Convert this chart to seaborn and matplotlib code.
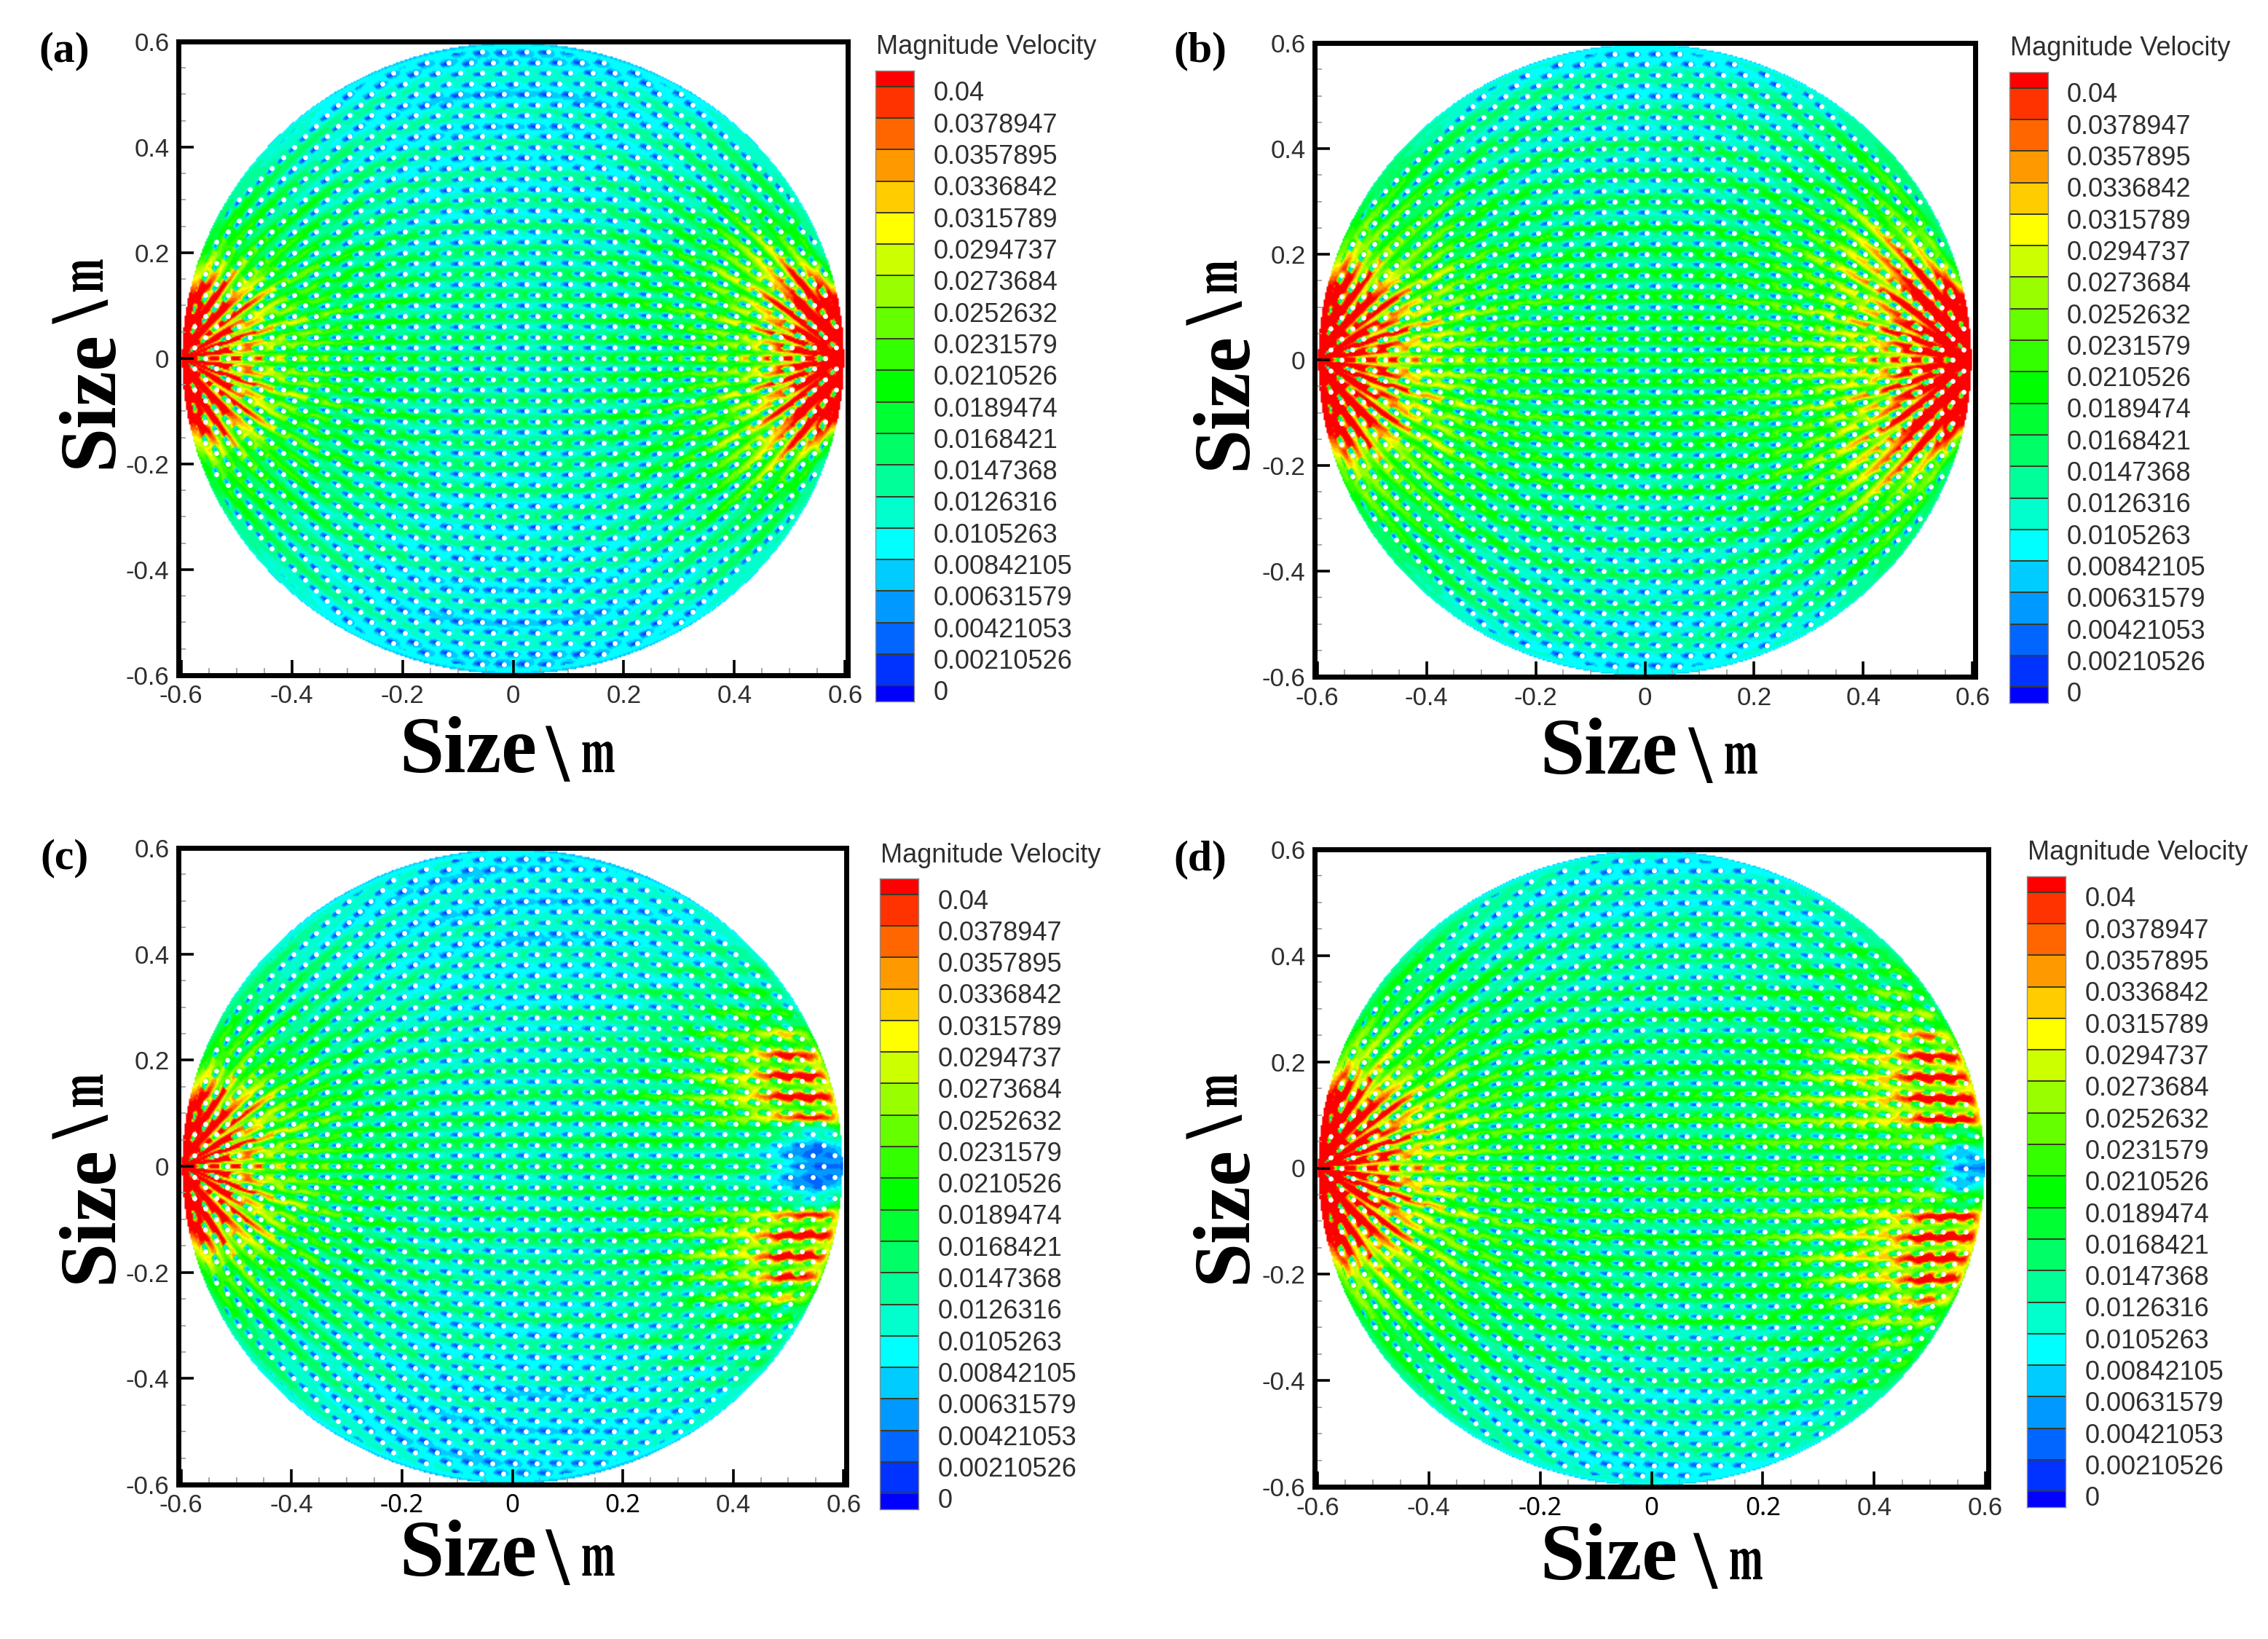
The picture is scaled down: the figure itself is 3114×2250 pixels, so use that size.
import numpy as np
import matplotlib
matplotlib.use("Agg")
import matplotlib.pyplot as plt
import matplotlib.patheffects as pe
from matplotlib.colors import ListedColormap
from matplotlib.ticker import MultipleLocator
from matplotlib.transforms import Affine2D
import seaborn as sns

WIDTH, HEIGHT = 3114, 2250
DPI = 200

# Contour levels and the colours of the bands between them (low to high)
level_labels = ["0.04", "0.0378947", "0.0357895", "0.0336842", "0.0315789", "0.0294737",
                "0.0273684", "0.0252632", "0.0231579", "0.0210526", "0.0189474", "0.0168421",
                "0.0147368", "0.0126316", "0.0105263", "0.00842105", "0.00631579",
                "0.00421053", "0.00210526", "0"]
band_colors = ["#0000ff", "#0033ff", "#0066ff", "#0099ff", "#00ccff", "#00ffff", "#00ffcc",
               "#00ff99", "#00ff66", "#00ff33", "#00ff00", "#33ff00", "#66ff00", "#99ff00",
               "#ccff00", "#ffff00", "#ffcc00", "#ff9900", "#ff6600", "#ff3300", "#ff0000"]

# Sampling stations of the velocity tables, metres
station_x = [-0.6, -0.55, -0.5, -0.45, -0.4, -0.3, -0.15, 0, 0.15, 0.3, 0.4, 0.45, 0.5, 0.55, 0.6]
station_y = [0, 0.05, 0.1, 0.15, 0.2, 0.3, 0.4, 0.5, 0.6]

# Mean speed in mm/s at each station, one row per |y|
speed_a = [[72, 52, 38, 29, 24, 19, 16, 14.5, 15.5, 19, 25, 30, 40, 62, 80],
           [70, 50, 37, 28, 24, 19, 16, 14.5, 15.5, 19, 24, 29, 38, 58, 80],
           [60, 46, 34, 27, 23, 18.5, 15.5, 14.5, 15.5, 19, 24, 29, 36, 54, 66],
           [36, 36, 30, 25, 21, 18, 15, 14, 15, 18.5, 24, 30, 36, 38, 14],
           [22, 24, 23, 21, 19.5, 17, 14.5, 13.5, 14.5, 17.5, 22, 26, 26, 17, 9],
           [16, 17, 17, 17, 16, 15, 13, 12.5, 13, 15, 17, 17, 15, 12, 9],
           [13, 13, 13, 13.5, 13.5, 13, 11.5, 11, 11.5, 13, 13.5, 13.5, 12, 11, 9],
           [11, 11, 11, 11, 11.5, 11, 10.5, 10.5, 10.5, 11, 11.5, 11.5, 11, 10, 9.5],
           [10, 10, 10, 10, 10, 10, 10, 10, 10, 10, 10, 10, 10, 10, 10]]
speed_b = [[80, 60, 44, 35, 28, 22, 19, 17.5, 19, 23, 29, 35, 46, 68, 88],
           [78, 58, 43, 34, 28, 22, 19, 17.5, 19, 23, 28, 33, 44, 64, 88],
           [68, 52, 40, 32, 27, 21.5, 18.5, 17.5, 18.5, 22, 28, 34, 42, 60, 70],
           [44, 44, 36, 29, 25, 21, 18, 17, 18, 21, 28, 36, 42, 42, 15],
           [28, 30, 28, 25, 23, 19.5, 17.5, 16.5, 17.5, 21, 28, 33, 32, 20, 11],
           [19, 20, 20, 20, 19.5, 17.5, 16, 15.5, 16, 18, 21, 22, 18, 14, 11],
           [15, 16, 16, 17, 16.5, 15.5, 14.5, 14, 14.5, 15.5, 17, 17, 15, 13, 11],
           [12.5, 12.5, 12.5, 13, 13, 13, 13, 12.5, 13, 13, 13.5, 13, 13, 12, 11],
           [11, 11, 11, 11, 11, 11, 11, 11, 11, 11, 11, 11, 11, 11, 11]]
speed_c = [[72, 52, 38, 29, 24, 19, 16, 14.5, 15.5, 16, 15, 13, 7, 3.5, 3],
           [70, 50, 37, 28, 24, 19, 16, 14.5, 15.5, 16.5, 16, 15, 10, 6, 12],
           [60, 46, 34, 27, 23, 18.5, 15.5, 14.5, 15.5, 18, 25, 29, 33, 35, 34],
           [36, 36, 30, 25, 21, 18, 15, 14, 15, 19, 27, 32, 36, 37, 32],
           [22, 24, 23, 21, 19.5, 17, 14.5, 13.5, 14.5, 17.5, 24, 30, 35, 35, 22],
           [16, 17, 17, 17, 16, 15, 13, 12.5, 13, 15, 17, 19, 15, 10, 9],
           [13, 13, 13, 13.5, 13.5, 13, 11.5, 11, 11.5, 13, 13.5, 13.5, 12, 11, 9],
           [11, 11, 11, 11, 11.5, 11, 10.5, 10.5, 10.5, 11, 11.5, 11.5, 11, 10, 9.5],
           [10, 10, 10, 10, 10, 10, 10, 10, 10, 10, 10, 10, 10, 10, 10]]
speed_d = [[80, 60, 44, 35, 28, 22, 19, 18, 19, 20, 20, 20, 16, 5, 3],
           [78, 58, 43, 34, 28, 22, 19, 18, 19, 20.5, 22, 22, 23, 14, 18],
           [68, 52, 40, 32, 27, 21.5, 18.5, 17.5, 19, 22, 28, 32, 37, 38, 36],
           [44, 44, 36, 29, 25, 21, 18, 17, 18.5, 22, 29, 34, 38, 39, 34],
           [28, 30, 28, 25, 23, 19.5, 17.5, 16.5, 18, 21, 27, 33, 38, 38, 26],
           [19, 20, 20, 20, 19.5, 17.5, 16, 15.5, 16, 18, 21, 24, 21, 13, 11],
           [15, 16, 16, 17, 16.5, 15.5, 14.5, 14, 14.5, 15.5, 17, 18, 16, 13, 11],
           [12.5, 12.5, 12.5, 13, 13, 13, 13, 12.5, 13, 13, 13.5, 13, 13, 12, 11],
           [11, 11, 11, 11, 11, 11, 11, 11, 11, 11, 11, 11, 11, 11, 11]]

# Outlet sinks (x, |y|) in metres for each case; the split outlet feeds a wide band of the wall
outlets_a = [(0.6, 0.0)]
outlets_b = [(0.6, 0.0)]
outlets_c = [(0.74, 0.06), (0.74, 0.10), (0.74, 0.14), (0.74, 0.18), (0.74, 0.22)]
outlets_d = [(0.74, 0.06), (0.74, 0.10), (0.74, 0.14), (0.74, 0.18), (0.74, 0.22)]

tick_values = [-0.6, -0.4, -0.2, 0, 0.2, 0.4, 0.6]
tick_labels = ["-0.6", "-0.4", "-0.2", "0", "0.2", "0.4", "0.6"]

# Obstacle lattice: staggered rows, metres
lattice_dx = 0.04
lattice_dy = 0.02
lattice_shift = 0.004
disk_radius = 0.6

SERIF = "Liberation Serif"
SANS = "Liberation Sans"
TEXT_GREY = "#2e2e2e"

sns.set_theme(style="white")
plt.rcParams["font.family"] = [SANS, "DejaVu Sans"]
band_cmap = ListedColormap(band_colors)
band_cmap.set_bad((1, 1, 1, 0))
levels = np.linspace(0, 0.04, 20)

fig = plt.figure(figsize=(WIDTH / DPI, HEIGHT / DPI), dpi=DPI, facecolor="white")


class SqueezeX(pe.AbstractPathEffect):
    """Narrows a glyph run along its own baseline."""

    def __init__(self, factor):
        super().__init__()
        self.factor = factor

    def draw_path(self, renderer, gc, tpath, affine, rgbFace=None):
        renderer.draw_path(gc, tpath, Affine2D().scale(self.factor, 1) + affine, rgbFace)


def fig_xy(px, py):
    return px / WIDTH, 1 - py / HEIGHT


def px_text(px, py, text, **kw):
    x, y = fig_xy(px, py)
    return fig.text(x, y, text, ha=kw.pop("ha", "left"), va=kw.pop("va", "baseline"),
                    rotation_mode="anchor", **kw)


def speed_on_grid(table, gx, gy):
    rows = np.array([np.interp(gx, station_x, row) for row in table])
    out = np.empty((gy.size, gx.size))
    abs_y = np.abs(gy)
    for j in range(gx.size):
        out[:, j] = np.interp(abs_y, station_y, rows[:, j])
    return out


def magnitude_field(table, outlets, gx, gy):
    X, Y = np.meshgrid(gx, gy)
    Ya = np.abs(Y)
    base = speed_on_grid(table, gx, gy) * 1e-3

    # Lanes follow the streamlines between the inlet and the outlets
    sinks = [(sx, p) for sx, o in outlets for p in ((o, -o) if o > 0 else (0.0,))]
    split = len(sinks) > 1
    weight = 1.0 / len(sinks)
    psi = np.arctan2(Ya, X + 0.6)
    ux = (X + 0.6) / ((X + 0.6) ** 2 + Y ** 2 + 1e-4)
    uy = Y / ((X + 0.6) ** 2 + Y ** 2 + 1e-4)
    outlet_dist = np.full(X.shape, 9.0)
    for sx, p in sinks:
        psi = psi + weight * np.arctan2(Ya - p, sx - X)
        d2 = (X - sx) ** 2 + (Y - p) ** 2 + 1e-4
        ux += weight * (sx - X) / d2
        uy += weight * (p - Y) / d2
        outlet_dist = np.minimum(outlet_dist, np.hypot(X - 0.6, Y - p))
    inlet_dist = np.hypot(X + 0.6, Y)
    radius = np.hypot(X, Y)

    # Fine lanes mid-disk give way to rays close to the ports
    near_in = np.exp(-inlet_dist / 0.14)
    near_out = np.exp(-outlet_dist / (0.2 if split else 0.13))
    fine = 0.22 * np.cos(2 * np.pi * psi / 0.133)
    ray_in = 0.55 * np.cos(2 * np.pi * psi / 0.2)
    if split:
        # Rays of the split outlet run level, between the obstacle rows
        ray_out = 0.5 * np.cos(2 * np.pi * (Ya - 0.01) / 0.04)
    else:
        ray_out = 0.55 * np.cos(2 * np.pi * psi / 0.2)
    far = np.clip(1 - near_in - near_out, 0, 1)
    lanes = 1 + far * fine + near_in * ray_in + near_out * ray_out
    lanes = 1 + (lanes - 1) * (1 - np.exp(-np.clip(disk_radius - radius, 0, None) / 0.02))

    # Low-speed wake around every obstacle, stretched along the local flow
    a = (X - lattice_shift) / (lattice_dx / 2)
    b = Y / lattice_dy
    p_idx = np.round((a + b) / 2)
    q_idx = np.round((a - b) / 2)
    dx = (a - (p_idx + q_idx)) * lattice_dx / 2
    dy = (b - (p_idx - q_idx)) * lattice_dy
    norm = np.hypot(ux, uy) + 1e-9
    tx, ty = ux / norm, uy / norm
    along = dx * tx + dy * ty
    across = -dx * ty + dy * tx
    wake = np.exp(-((along + 0.007) / 0.012) ** 2 - (across / 0.005) ** 2)
    wake = wake * (radius < disk_radius - 0.012)
    depth = 0.84 * (1 - 0.45 * near_out) if split else 0.84

    speed = base * lanes * (1 - depth * wake)

    # Thin boundary layer on the wall, away from the ports
    wall = np.clip(Ya / 0.25, 0, 1) * np.exp(-np.clip(disk_radius - radius, 0, None) / 0.005)
    speed = speed * (1 - 0.4 * wall)
    return np.ma.masked_where(radius > disk_radius, speed)


def draw_colorbar(left, top, label_x):
    right = left + 53
    bottom = top + 866
    cax = fig.add_axes([left / WIDTH, 1 - bottom / HEIGHT, (right - left) / WIDTH, (bottom - top) / HEIGHT])
    # Half-band rows: one cap at each end, two rows per band between levels
    rows = [20] + [b for b in range(19, 0, -1) for _ in (0, 1)] + [0]
    sns.heatmap(np.array(rows, dtype=float).reshape(-1, 1), ax=cax, cmap=band_cmap, vmin=-0.5, vmax=20.5,
                cbar=False, xticklabels=False, yticklabels=False)
    cax.hlines(np.arange(1, 40, 2), 0, 1, color="#3a3a22", linewidth=0.7)
    for side in cax.spines.values():
        side.set_visible(True)
        side.set_color("#8a8a8a")
        side.set_linewidth(0.5)
    px_text(left + 1, top - 32, "Magnitude Velocity", fontsize=13, color=TEXT_GREY, va="center")
    step = (866 - 43.3) / 19
    for i, lab in enumerate(level_labels):
        px_text(label_x, top + 22 + i * step + 10, lab, fontsize=13, color=TEXT_GREY, va="center")


def draw_panel(box, table, outlets, tag, tag_xy, label_x, label_y, ylabel_x, ylabel_y, bar, black_mid=False, mx=0):
    L, R, T, B = box
    ax = fig.add_axes([L / WIDTH, 1 - B / HEIGHT, (R - L) / WIDTH, (B - T) / HEIGHT])
    xlim = (-0.605, 0.605)
    ylim = (-0.6, 0.6)

    gx = np.linspace(xlim[0], xlim[1], (R - L) // 2)
    gy = np.linspace(ylim[0], ylim[1], (B - T) // 2)
    speed = magnitude_field(table, outlets, gx, gy)
    band = np.digitize(speed.filled(0), levels).astype(float)
    band = np.ma.array(band, mask=speed.mask)
    ax.imshow(band, origin="lower", extent=(xlim[0], xlim[1], ylim[0], ylim[1]), aspect="auto",
              cmap=band_cmap, vmin=-0.5, vmax=20.5, interpolation="bilinear", interpolation_stage="rgba")

    # Obstacles of the staggered lattice inside the disk
    row_index = np.arange(-29, 30)
    dots_x, dots_y = [], []
    for k in row_index:
        yk = k * lattice_dy
        start = 0.0 if k % 2 == 0 else lattice_dx / 2
        xs = start + np.arange(-16, 17) * lattice_dx
        keep = np.hypot(xs, yk) < disk_radius - 0.012
        dots_x.extend(xs[keep] + lattice_shift)
        dots_y.extend(np.full(keep.sum(), yk))
    sns.scatterplot(x=dots_x, y=dots_y, ax=ax, color="white", s=6, linewidth=0, legend=False, zorder=3)

    ax.set_xlim(*xlim)
    ax.set_ylim(*ylim)
    ax.set_xticks(tick_values, tick_labels)
    ax.set_yticks(tick_values, tick_labels)
    ax.xaxis.set_minor_locator(MultipleLocator(0.05))
    ax.yaxis.set_minor_locator(MultipleLocator(0.05))
    ax.tick_params(which="major", direction="in", length=7.6, width=1.3, color="black", top=False, right=False,
                   labelsize=12.5, labelcolor=TEXT_GREY, left=True, bottom=True)
    ax.tick_params(axis="x", which="major", pad=4.5)
    ax.tick_params(axis="y", which="major", pad=4.5)
    ax.tick_params(which="minor", direction="in", length=3.6, width=0.6, color="#9a9a9a", top=False, right=False,
                   left=True, bottom=True)
    for side in ax.spines.values():
        side.set_visible(True)
        side.set_color("black")
        side.set_linewidth(2.5)
    if black_mid:
        for lab in ax.get_xticklabels()[2:5]:
            lab.set_color("black")
            lab.set_fontfamily("Noto Sans")

    px_text(tag_xy[0], tag_xy[1], tag, fontsize=21.5, family=SERIF, weight="bold", color="black", ha="center", va="center")

    # Horizontal axis title: wide serif word, slash, and a narrowed unit
    px_text(label_x, label_y, "Size", fontsize=39.5, family=SERIF, weight="bold", color="black")
    px_text(label_x + 201 + mx, label_y + 12, "\\", fontsize=41, family=SERIF, weight="bold", color="black")
    px_text(label_x + 250 + mx, label_y, "m", fontsize=32, family=SERIF, weight="bold", color="black",
            path_effects=[SqueezeX(0.63)])

    # Vertical axis title
    px_text(ylabel_x - 4, ylabel_y, "Size", fontsize=39.5, family=SERIF, weight="bold", color="black", rotation=90)
    px_text(ylabel_x - 8, ylabel_y - 198, "\\", fontsize=41, family=SERIF, weight="bold", color="black", rotation=90)
    px_text(ylabel_x - 16, ylabel_y - 241, "m", fontsize=32, family=SERIF, weight="bold", color="black", rotation=90,
            path_effects=[SqueezeX(0.63)])

    draw_colorbar(*bar)


draw_panel((245, 1164, 57, 927), speed_a, outlets_a, "(a)", (88, 70), 548, 1060, 157, 643, (1202, 97, 1282))
draw_panel((1805, 2712, 59, 929), speed_b, outlets_b, "(b)", (1648, 70), 2114, 1062, 1714, 645, (2759, 99, 2838), mx=3)
draw_panel((245, 1162, 1164, 2038), speed_c, outlets_c, "(c)", (88, 1178), 548, 2163, 157, 1762, (1208, 1206, 1288),
           black_mid=True)
draw_panel((1805, 2730, 1166, 2041), speed_d, outlets_d, "(d)", (1648, 1180), 2114, 2168, 1714, 1762, (2783, 1203, 2863),
           black_mid=True, mx=10)

fig.savefig("out.png", dpi=DPI, facecolor="white")
